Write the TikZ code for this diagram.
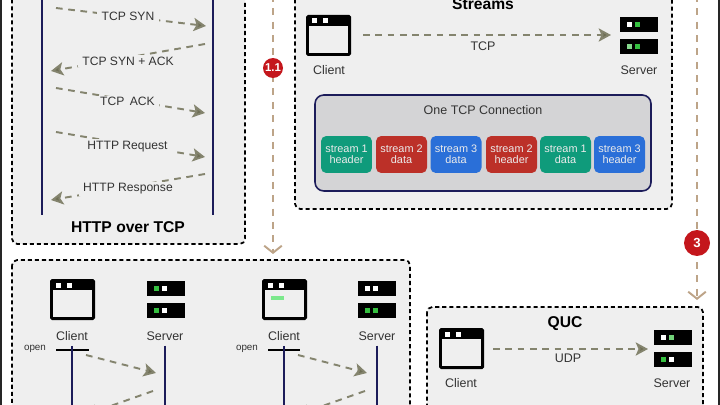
\documentclass[tikz,border=0pt]{standalone}
\usepackage{xcolor}
\usepackage{fontspec}
\setmainfont{Liberation Sans}
\usepackage{tikz}
\usetikzlibrary{arrows.meta}

\definecolor{boxgray}{HTML}{EFEFEF}
\definecolor{conngray}{HTML}{D4D4D6}
\definecolor{lifeblue}{HTML}{1C1C5A}
\definecolor{msgolive}{HTML}{6E6E55}
\definecolor{tanline}{HTML}{BDA488}
\definecolor{badgered}{HTML}{C4161C}
\definecolor{streamgreen}{HTML}{0F9B7B}
\definecolor{streamred}{HTML}{BC3028}
\definecolor{streamblue}{HTML}{2A6FD8}
\definecolor{ledgreen}{HTML}{35C040}
\definecolor{bargreen}{HTML}{7CE88C}

\tikzset{
  groupbox/.style={draw=black, fill=boxgray, line width=1pt, rounded corners=3pt, dash pattern=on 2.3pt off 1.7pt},
  lifeline/.style={draw=lifeblue, line width=0.9pt},
  msg/.style={draw=msgolive!85, line width=1.1pt, dash pattern=on 3.8pt off 3.2pt, -{Stealth[length=7pt,width=7.5pt,inset=1.6pt,fill=msgolive]}},
  msgtext/.style={fill=boxgray, inner xsep=2.5pt, inner ysep=1pt, font=\fontsize{6.9}{8}\selectfont, text=black!80},
  flow/.style={draw=tanline, line width=1.1pt, dash pattern=on 4pt off 3.6pt, -{Straight Barb[length=4pt,width=10pt]}},
  badge/.style={circle, fill=badgered, text=white, inner sep=0pt, font=\bfseries\fontsize{6.5}{8}\selectfont},
  endlabel/.style={font=\fontsize{7.1}{8}\selectfont, text=black!80},
  openlabel/.style={font=\fontsize{5.6}{7}\selectfont, text=black!80},
  title/.style={font=\bfseries\fontsize{8.9}{10}\selectfont, text=black},
  streambox/.style={rounded corners=3pt, minimum width=1.02cm, minimum height=0.74cm, inner sep=0pt, align=center, text=white!92!black, font=\fontsize{6.2}{6.4}\selectfont}
}

% browser window, top left corner at #1,#2
\newcommand{\clienticon}[2]{
  \fill[black, rounded corners=1pt] (#1,#2) rectangle ++(45,41);
  \fill[boxgray] (#1+3,#2+11) rectangle ++(39,27);
  \fill[white] (#1+6,#2+3.5) rectangle ++(5,5);
  \fill[white] (#1+17,#2+3.5) rectangle ++(5,5);
}
% two server units, top left corner at #1,#2, then the colours of the four lights
\newcommand{\servericon}[6]{
  \fill[black] (#1,#2) rectangle ++(38,15);
  \fill[black] (#1,#2+22) rectangle ++(38,15);
  \fill[#3] (#1+7,#2+5) rectangle ++(5,5);
  \fill[#4] (#1+15,#2+5) rectangle ++(5,5);
  \fill[#5] (#1+7,#2+27) rectangle ++(5,5);
  \fill[#6] (#1+15,#2+27) rectangle ++(5,5);
}

\begin{document}
\begin{tikzpicture}[x=0.02cm, y=-0.02cm]
  \useasboundingbox (0,0) rectangle (720,405);
  \clip (0,0) rectangle (720,405);
  \fill[white] (0,0) rectangle (720,405);

  % edges of the page
  \fill[black!85] (0,0) rectangle (2.5,405);
  \fill[black!85] (718,0) rectangle (720,405);

  % HTTP over TCP
  \draw[groupbox] (12,-20) rectangle (245,244);
  \coordinate (lifeAtop) at (42,-5);
  \coordinate (lifeAbot) at (42,215);
  \coordinate (lifeBtop) at (213,-5);
  \coordinate (lifeBbot) at (213,215);
  \draw[lifeline] (lifeAtop) -- (lifeAbot);
  \draw[lifeline] (lifeBtop) -- (lifeBbot);
  \coordinate (synA) at (56,8);
  \coordinate (synB) at (206,26);
  \coordinate (synackA) at (205,44);
  \coordinate (synackB) at (51,71);
  \coordinate (ackA) at (56,88);
  \coordinate (ackB) at (205,113);
  \coordinate (reqA) at (56,132);
  \coordinate (reqB) at (205,157);
  \coordinate (respA) at (205,174);
  \coordinate (respB) at (51,200);
  \draw[msg] (synA) -- node[msgtext, pos=0.48] (syn) {TCP SYN} (synB);
  \draw[msg] (synackA) -- node[msgtext, pos=0.5, yshift=-2pt] (synack) {TCP SYN + ACK} (synackB);
  \draw[msg] (ackA) -- node[msgtext, pos=0.48, yshift=-1pt] (ack) {TCP\, ACK} (ackB);
  \draw[msg] (reqA) -- node[msgtext, pos=0.48, yshift=-1.5pt] (req) {HTTP Request} (reqB);
  \draw[msg] (respA) -- node[msgtext, pos=0.5, yshift=-1pt] (resp) {HTTP Response} (respB);
  \node[title] (httptitle) at (128,227) {HTTP over TCP};

  % Streams
  \draw[groupbox] (295,-20) rectangle (672,209);
  \node[title] (streamtitle) at (483,4) {Streams};
  \clienticon{306}{15}
  \servericon{620}{17}{white}{ledgreen}{ledgreen!60!white}{ledgreen}
  \node[endlabel] (sclient) at (329,70) {Client};
  \node[endlabel] (sserver) at (639,70) {Server};
  \coordinate (sA) at (363,35);
  \coordinate (sB) at (611,35);
  \draw[msg] (sA) -- (sB);
  \node[endlabel] (stcp) at (483,46) {TCP};
  \draw[lifeblue, fill=conngray, line width=0.9pt, rounded corners=5pt] (315,95) rectangle (651,191);
  \node[endlabel] (conn) at (483,110) {One TCP Connection};
  \foreach \i/\xpos/\col/\one/\two in {1/346.5/streamgreen/stream 1/header, 2/401.5/streamred/stream 2/data, 3/456/streamblue/stream 3/data, 4/511.5/streamred/stream 2/header, 5/565.5/streamgreen/stream 1/data, 6/619.5/streamblue/stream 3/header}
    \node[streambox, fill=\col] (st\i) at (\xpos,154.5) {\one\\\two};

  % flows between the groups
  \coordinate (flowAtop) at (273,-5);
  \coordinate (flowAend) at (273,254);
  \coordinate (flowBtop) at (697,-5);
  \coordinate (flowBend) at (697,300);
  \draw[flow] (flowAtop) -- (flowAend);
  \draw[flow] (flowBtop) -- (flowBend);
  \node[badge, minimum size=0.4cm] (one) at (273,68) {1.1};
  \node[badge, minimum size=0.52cm, font=\bfseries\fontsize{7.5}{8}\selectfont] (three) at (697,243) {3};

  % two requests over one connection
  \draw[groupbox] (12,260) rectangle (410,430);
  \clienticon{50}{279}
  \servericon{147}{281}{ledgreen}{white}{ledgreen}{white}
  \node[endlabel] (cA) at (72,336) {Client};
  \node[endlabel] (sA2) at (165,336) {Server};
  \node[openlabel] (openA) at (35,349) {open};
  \coordinate (tickAl) at (56,350);
  \coordinate (tickAr) at (89,350);
  \draw[line width=0.9pt] (tickAl) -- (tickAr);
  \draw[lifeline] (cA.south) ++(0,-1) -- (72,410);
  \draw[lifeline] (sA2.south) ++(0,-1) -- (165,410);
  \coordinate (oneA) at (86,355);
  \coordinate (oneB) at (156,373);
  \coordinate (twoA) at (153,391);
  \coordinate (twoB) at (85,415);
  \draw[msg] (oneA) -- (oneB);
  \draw[msg] (twoA) -- (twoB);

  \clienticon{262}{279}
  \fill[bargreen] (271,296) rectangle ++(13,3.5);
  \servericon{358}{281}{white}{white}{ledgreen}{ledgreen}
  \node[endlabel] (cB) at (284,336) {Client};
  \node[endlabel] (sB2) at (377,336) {Server};
  \node[openlabel] (openB) at (247,349) {open};
  \coordinate (tickBl) at (268,350);
  \coordinate (tickBr) at (300,350);
  \draw[line width=0.9pt] (tickBl) -- (tickBr);
  \draw[lifeline] (cB.south) ++(0,-1) -- (284,410);
  \draw[lifeline] (sB2.south) ++(0,-1) -- (377,410);
  \coordinate (threeA) at (298,355);
  \coordinate (threeB) at (367,373);
  \coordinate (fourA) at (365,391);
  \coordinate (fourB) at (297,415);
  \draw[msg] (threeA) -- (threeB);
  \draw[msg] (fourA) -- (fourB);

  % QUIC
  \draw[groupbox] (427,307) rectangle (703,430);
  \node[title] (quictitle) at (565,324) {QUC};
  \clienticon{439}{328}
  \servericon{654}{330}{white}{ledgreen!70!white}{ledgreen}{white}
  \node[endlabel] (qclient) at (461,383) {Client};
  \node[endlabel] (qserver) at (672,383) {Server};
  \coordinate (qA) at (493,349);
  \coordinate (qB) at (648,349);
  \draw[msg] (qA) -- (qB);
  \node[endlabel] (qudp) at (568,358) {UDP};
\end{tikzpicture}
\end{document}
